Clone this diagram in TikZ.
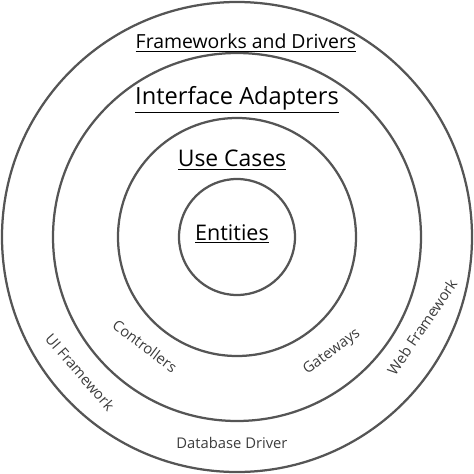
\documentclass[tikz,border=0pt]{standalone}
\usepackage{fontspec}
\setmainfont{Open Sans}
\definecolor{ringgray}{RGB}{85, 85, 85}
\definecolor{labelgray}{RGB}{60, 60, 60}

\tikzset{
  ring/.style={draw=ringgray, line width=1.6pt},
  layer/.style={font=\fontsize{#1}{#1}\selectfont, text=black, inner sep=1pt},
  tag/.style={font=\fontsize{10.5}{10.5}\selectfont, text=labelgray, inner sep=1pt}
}

\begin{document}
\begin{tikzpicture}[x=0.025cm, y=-0.025cm]
  \useasboundingbox (0,0) rectangle (474,474);
  \coordinate (O) at (237,237);
  % the four rings
  \draw[ring] (O) circle[radius=235];
  \draw[ring] (O) circle[radius=184];
  \draw[ring] (O) circle[radius=119];
  \draw[ring] (O) circle[radius=58];
  % layer names
  \node[layer=13.8] (drivers) at (246,43) {\underline{Frameworks and Drivers}};
  \node[layer=16.8] (adapters) at (237,100) {\underline{Interface Adapters}};
  \node[layer=16.3] (usecases) at (232,160) {\underline{Use Cases}};
  \node[layer=15.3] (entities) at (232,234) {\underline{Entities}};
  % parts of the outer rings
  \node[tag, rotate=-37] (controllers) at (145,346) {Controllers};
  \node[tag, rotate=36] (gateways) at (332,352) {Gateways};
  \node[tag, rotate=-49] (uiframe) at (80,372) {UI Framework};
  \node[tag, rotate=56] (webframe) at (422,327) {Web Framework};
  \node[tag] (dbdriver) at (232,443) {Database Driver};
\end{tikzpicture}
\end{document}
